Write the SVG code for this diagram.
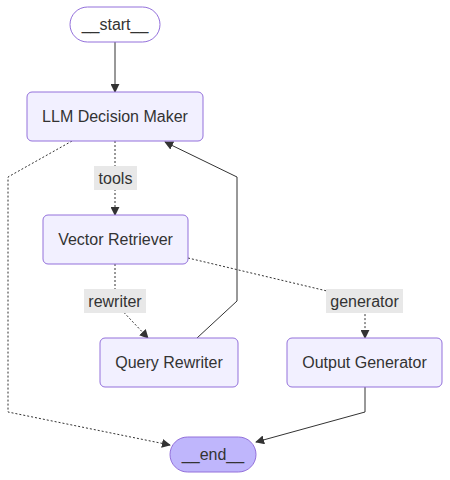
<svg xmlns="http://www.w3.org/2000/svg" width="450" height="480" viewBox="0 0 450 480">
<style>
.node rect{fill:#f2f0ff;stroke:#9370db;stroke-width:1}
.node text,.lbl text{font-family:"Liberation Sans",Arial,sans-serif;font-size:16px;fill:#333;text-anchor:middle;dominant-baseline:central}
.e{fill:none;stroke:#333;stroke-width:1}
.d{stroke-dasharray:2 2}
.lbl rect{fill:#e8e8e8}
</style>
<defs>
<marker id="ah" viewBox="0 0 10 10" refX="9" refY="5" markerWidth="9" markerHeight="9" markerUnits="userSpaceOnUse" orient="auto">
<path d="M0,0L10,5L0,10z" fill="#333"/>
</marker>
</defs>
<rect width="450" height="480" fill="#fff"/>
<g id="edges">
<path class="e" d="M115,42V92" marker-end="url(#ah)"/>
<path class="e d" d="M72,141L8,177V412L170,445" marker-end="url(#ah)"/>
<path class="e d" d="M115,141V215" marker-end="url(#ah)"/>
<path class="e d" d="M115,264V303L148,338" marker-end="url(#ah)"/>
<path class="e d" d="M188,258L365,300V338" marker-end="url(#ah)"/>
<path class="e" d="M197,338L237,301V177L165,142" marker-end="url(#ah)"/>
<path class="e" d="M365,387V412L256,442" marker-end="url(#ah)"/>
</g>
<g id="labels">
<g class="lbl"><rect x="94" y="166" width="43" height="24"/><text x="115.5" y="178">tools</text></g>
<g class="lbl"><rect x="84" y="289" width="62" height="24"/><text x="115" y="301">rewriter</text></g>
<g class="lbl"><rect x="326" y="289" width="77" height="24"/><text x="364.5" y="301">generator</text></g>
</g>
<g id="start" class="node"><rect x="70" y="7" width="90" height="35" rx="17.5" style="fill:#fff"/><text x="115" y="24.5">__start__</text></g>
<g id="llm" class="node"><rect x="27" y="92" width="176" height="49" rx="5"/><text x="115" y="116.5">LLM Decision Maker</text></g>
<g id="retriever" class="node"><rect x="43" y="215" width="145" height="49" rx="5"/><text x="115.5" y="239.5">Vector Retriever</text></g>
<g id="rewriter" class="node"><rect x="100" y="338" width="138" height="49" rx="5"/><text x="169" y="362.5">Query Rewriter</text></g>
<g id="generator" class="node"><rect x="287" y="338" width="155" height="49" rx="5"/><text x="364.5" y="362.5">Output Generator</text></g>
<g id="end" class="node"><rect x="170" y="437" width="86" height="35" rx="17.5" style="fill:#bfb6fc"/><text x="213" y="454.5">__end__</text></g>
</svg>
